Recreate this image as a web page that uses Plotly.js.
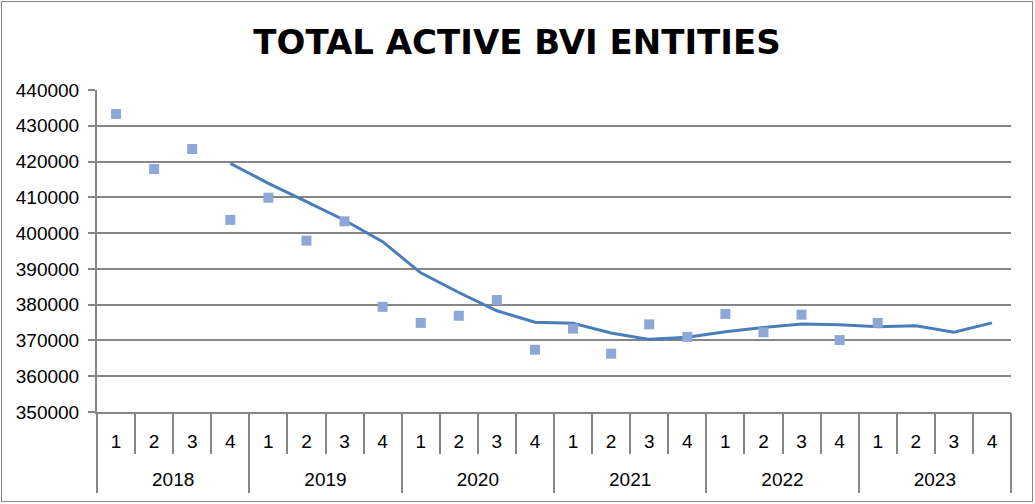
<!DOCTYPE html>
<html>
<head>
<meta charset="utf-8">
<script src="https://cdn.plot.ly/plotly-3.0.1.min.js"></script>
<style>
  body { margin: 0; background: #fff; }
  #myDiv { position: absolute; left: 1px; top: 1px; width: 1030px; height: 499px; border: 1px solid #868686; }
</style>
</head>
<body>
<div id="myDiv"></div>
<script>
var years = ['2018', '2019', '2020', '2021', '2022', '2023'];
var quarters = ['1', '2', '3', '4'];

// active entities per quarter (2023 Q2-Q4 not plotted as points)
var entities = [433300, 417900, 423500, 403700,
                409900, 397900, 403300, 379400,
                374900, 376900, 381300, 367400,
                373300, 366300, 374500, 371000,
                377400, 372300, 377200, 370100,
                374900, null, null, null];

// 4 period moving average line as drawn
var trend = [null, null, null, 419500,
             413900, 408800, 403600, 397600,
             388900, 383400, 378300, 375100,
             374800, 372100, 370300, 370900,
             372400, 373600, 374600, 374400,
             373800, 374100, 372300, 374900];

var qLabels = [], idx = [];
years.forEach(function (y) {
  quarters.forEach(function (q) {
    idx.push(qLabels.length);
    qLabels.push(q);
  });
});
var qBounds = idx.map(function (i) { return i - 0.5; }).concat([idx.length - 0.5]);
var yearMid = years.map(function (y, i) { return i * quarters.length + (quarters.length - 1) / 2; });
var yearBounds = years.map(function (y, i) { return i * quarters.length - 0.5; }).concat([idx.length - 0.5]);

var grey = '#868686';
var tickFont = {family: 'Liberation Sans, Arial, sans-serif', size: 19, color: '#000'};
var xRange = [-0.5, idx.length - 0.5];

var points = {
  x: idx,
  y: entities,
  type: 'scatter',
  mode: 'markers',
  marker: {symbol: 'square', size: 10, color: '#8DA7D6'},
  xaxis: 'x2',
  hoverinfo: 'y'
};

var avgLine = {
  x: idx,
  y: trend,
  type: 'scatter',
  mode: 'lines',
  line: {color: '#4A7EBB', width: 3},
  connectgaps: false,
  hoverinfo: 'y'
};

var layout = {
  width: 1030,
  height: 499,
  margin: {l: 95, r: 21, t: 88, b: 89},
  paper_bgcolor: '#fff',
  plot_bgcolor: '#fff',
  showlegend: false,
  title: {
    text: 'TOTAL ACTIVE BVI ENTITIES',
    font: {family: 'DejaVu Sans, sans-serif', size: 34, weight: 'bold', color: '#000'},
    x: 0.5, xref: 'container', xanchor: 'center',
    y: 1 - 40 / 499, yref: 'container', yanchor: 'middle'
  },
  xaxis: {
    range: xRange,
    tickmode: 'array',
    tickvals: idx,
    ticktext: qLabels,
    ticks: '',
    ticklabelstandoff: 11,
    tickfont: tickFont,
    showgrid: false,
    zeroline: false,
    showline: true,
    linecolor: grey,
    linewidth: 2,
    minor: {tickmode: 'array', tickvals: qBounds, ticks: 'outside', ticklen: 40, tickcolor: grey, tickwidth: 2, showgrid: false},
    automargin: false,
    fixedrange: true
  },
  xaxis2: {
    overlaying: 'x',
    anchor: 'y',
    side: 'bottom',
    range: xRange,
    tickmode: 'array',
    tickvals: yearMid,
    ticktext: years,
    ticks: '',
    ticklabelstandoff: 54,
    tickfont: tickFont,
    showgrid: false,
    zeroline: false,
    showline: false,
    minor: {tickmode: 'array', tickvals: yearBounds, ticks: 'outside', ticklen: 80, tickcolor: grey, tickwidth: 2, showgrid: false},
    automargin: false,
    fixedrange: true
  },
  yaxis: {
    range: [350000, 440000],
    dtick: 10000,
    tickformat: 'd',
    tickfont: tickFont,
    ticks: 'outside',
    ticklen: 7,
    tickwidth: 2,
    tickcolor: grey,
    ticklabelstandoff: 5,
    showgrid: true,
    gridcolor: grey,
    gridwidth: 2,
    zeroline: false,
    showline: true,
    linecolor: grey,
    linewidth: 2,
    automargin: false,
    fixedrange: true
  }
};

Plotly.newPlot('myDiv', [avgLine, points], layout, {displayModeBar: false, staticPlot: true});
</script>
</body>
</html>
